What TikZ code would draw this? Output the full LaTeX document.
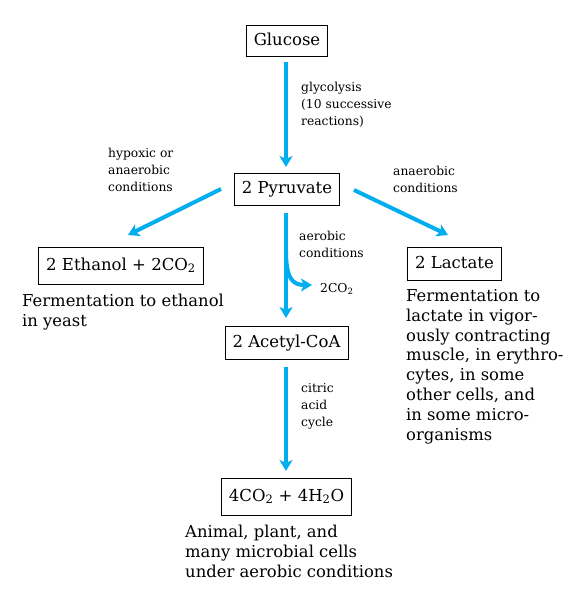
\documentclass[tikz,border=0pt]{standalone}
\usepackage{fontspec}
\setmainfont{DejaVu Serif}
\usetikzlibrary{arrows.meta}
\definecolor{flow}{HTML}{00AEEF}
\tikzset{
  box/.style={draw, line width=0.9pt, inner xsep=7.5pt, inner ysep=0pt, font=\fontsize{16.5}{20}\selectfont, text height=12.5pt, text depth=3.5pt},
  flowarrow/.style={draw=flow, line width=4pt, -{Stealth[length=11pt,width=13pt,inset=3pt]}, shorten >=0pt},
  lbl/.style={anchor=north west, inner sep=0pt, align=left, font=\fontsize{12.3}{17}\selectfont},
  desc/.style={anchor=north west, inner sep=0pt, align=left, font=\fontsize{16.4}{19.9}\selectfont},
}
\begin{document}
\begin{tikzpicture}[x=1pt,y=-1pt]
\useasboundingbox (0,0) rectangle (572,590);
% boxes
\node[box, minimum height=31pt] (glc) at (287,40.5) {Glucose};
\node[box, minimum height=32pt] (pyr) at (287,189) {2 Pyruvate};
\node[box, minimum height=37pt] (eth) at (121,265.5) {2 Ethanol + 2CO\textsubscript{2}};
\node[box, minimum height=33pt] (lac) at (454.5,263.5) {2 Lactate};
\node[box, minimum height=33pt] (aca) at (286.5,342.5) {2 Acetyl-CoA};
\node[box, minimum height=37pt] (fin) at (286.5,496.5) {4CO\textsubscript{2} + 4H\textsubscript{2}O};
% arrows
\coordinate (g1) at (286,62);
\coordinate (g2) at (286,167);
\draw[flowarrow] (g1) -- (g2);
\coordinate (p1) at (221,189);
\coordinate (p2) at (128,235);
\draw[flowarrow] (p1) -- (p2);
\coordinate (p3) at (354,190);
\coordinate (p4) at (448,235);
\draw[flowarrow] (p3) -- (p4);
\coordinate (a1) at (286,213);
\coordinate (a2) at (286,318);
\draw[flowarrow] (a1) -- (a2);
\coordinate (b1) at (286,250);
\coordinate (b2) at (312,285);
\draw[flowarrow] (b1) .. controls (286,278) and (292,285) .. (b2);
\coordinate (c1) at (286,367);
\coordinate (c2) at (286,471);
\draw[flowarrow] (c1) -- (c2);
% labels
\node[lbl] (lglyc) at (301,82) {glycolysis\\(10 successive\\reactions)};
\node[lbl] (lhyp) at (108,148) {hypoxic or\\anaerobic\\conditions};
\node[lbl] (lana) at (393,166) {anaerobic\\conditions};
\node[lbl] (laer) at (299,231) {aerobic\\conditions};
\node[lbl, anchor=base west] (lco2) at (320,292) {2CO\textsubscript{2}};
\node[lbl] (lcit) at (301,383) {citric\\acid\\cycle};
% descriptions
\node[desc] (deth) at (22,294) {Fermentation to ethanol\\in yeast};
\node[desc] (dlac) at (406,289) {Fermentation to\\lactate in vigor-\\ously contracting\\muscle, in erythro-\\cytes, in some\\other cells, and\\in some micro-\\organisms};
\node[desc] (dfin) at (185,525) {Animal, plant, and\\many microbial cells\\under aerobic conditions};
\end{tikzpicture}
\end{document}
